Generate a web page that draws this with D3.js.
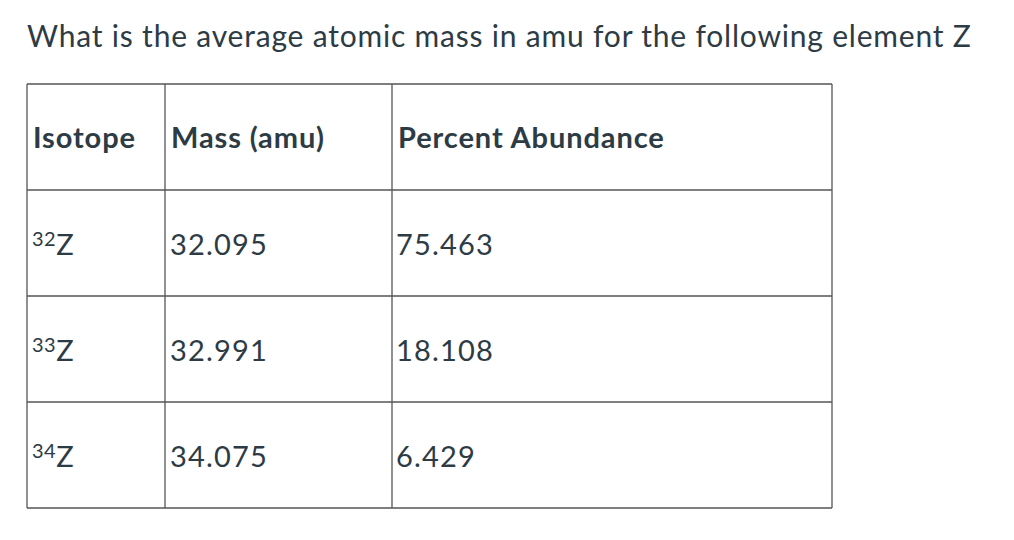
<!DOCTYPE html><html><head><meta charset="utf-8">
<script src="https://cdn.jsdelivr.net/npm/d3@7"></script>
<style>body{margin:0;background:#fff}</style></head><body><svg id="c" width="1014" height="540"></svg>
<script>
const title = "What is the average atomic mass in amu for the following element Z";
const headers = ["Isotope", "Mass (amu)", "Percent Abundance"];
const isotopes = ["32", "33", "34"];
const masses = ["32.095", "32.991", "34.075"];
const abundances = ["75.463", "18.108", "6.429"];

const svg = d3.select("#c");
const ink = "#2d3b45";
svg.append("text").attr("x", 27).attr("y", 47).attr("font-family", "Lato").attr("font-size", 30)
  .attr("letter-spacing", 0.8).attr("fill", ink).text(title);

const colEdges = [27, 165, 392, 832];
const rowScale = d3.scaleLinear().domain([0, 4]).range([84, 508]);
const nRows = 4;
for (let r = 0; r <= nRows; r++) {
  svg.append("line").attr("x1", colEdges[0]).attr("x2", colEdges[3])
    .attr("y1", rowScale(r)).attr("y2", rowScale(r)).attr("stroke", "#555").attr("stroke-width", 1.3);
}
colEdges.forEach(x => svg.append("line").attr("x1", x).attr("x2", x)
  .attr("y1", rowScale(0)).attr("y2", rowScale(nRows)).attr("stroke", "#555").attr("stroke-width", 1.3));

const txt = (x, y) => svg.append("text").attr("x", x).attr("y", y).attr("font-family", "Lato")
  .attr("font-size", 29).attr("letter-spacing", 1.2).attr("fill", ink);

headers.forEach((h, i) => txt(colEdges[i] + 6, rowScale(0) + 64).attr("font-weight", "bold").attr("letter-spacing", 0.9).text(h));

isotopes.forEach((iso, r) => {
  const y = rowScale(r + 1) + 65;
  const t = txt(colEdges[0] + 5, y);
  t.append("tspan").attr("font-size", 20).attr("letter-spacing", 0.5).attr("dy", -9).text(iso);
  t.append("tspan").attr("dy", 9).text("Z");
  txt(colEdges[1] + 5, y).text(masses[r]);
  txt(colEdges[2] + 4, y).text(abundances[r]);
});
</script></body></html>
